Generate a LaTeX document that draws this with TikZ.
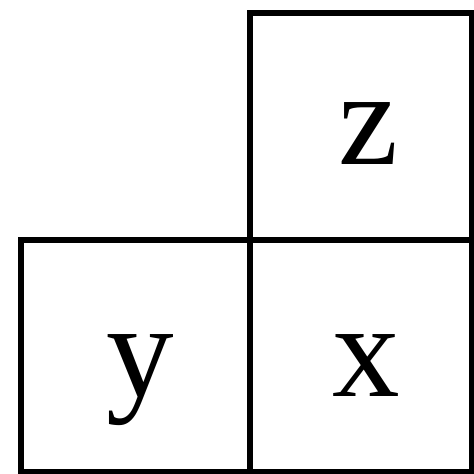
\documentclass[tikz,border=0pt]{standalone}
\usepackage{fontspec}
\setmainfont{Liberation Serif}
\begin{document}
\begin{tikzpicture}[x=1pt,y=1pt,
  cell/.style={draw=black,line width=5.5pt,line join=miter},
  lbl/.style={anchor=base,inner sep=0pt,font=\fontsize{135}{135}\selectfont}]
\useasboundingbox (0,0) rectangle (474,474);
\fill[white] (0,0) rectangle (474,474);
\begin{scope}
\clip (0,0) rectangle (474,474);
% cells
\draw[cell] (250,234) rectangle (472,461);
\draw[cell] (21,2) rectangle (250,234);
\draw[cell] (250,2) rectangle (472,234);
\end{scope}
% labels
\node[lbl] (z) at (368,309) {z};
\node[lbl] (y) at (140,77) {y};
\node[lbl] (x) at (366,77) {x};
\end{tikzpicture}
\end{document}
